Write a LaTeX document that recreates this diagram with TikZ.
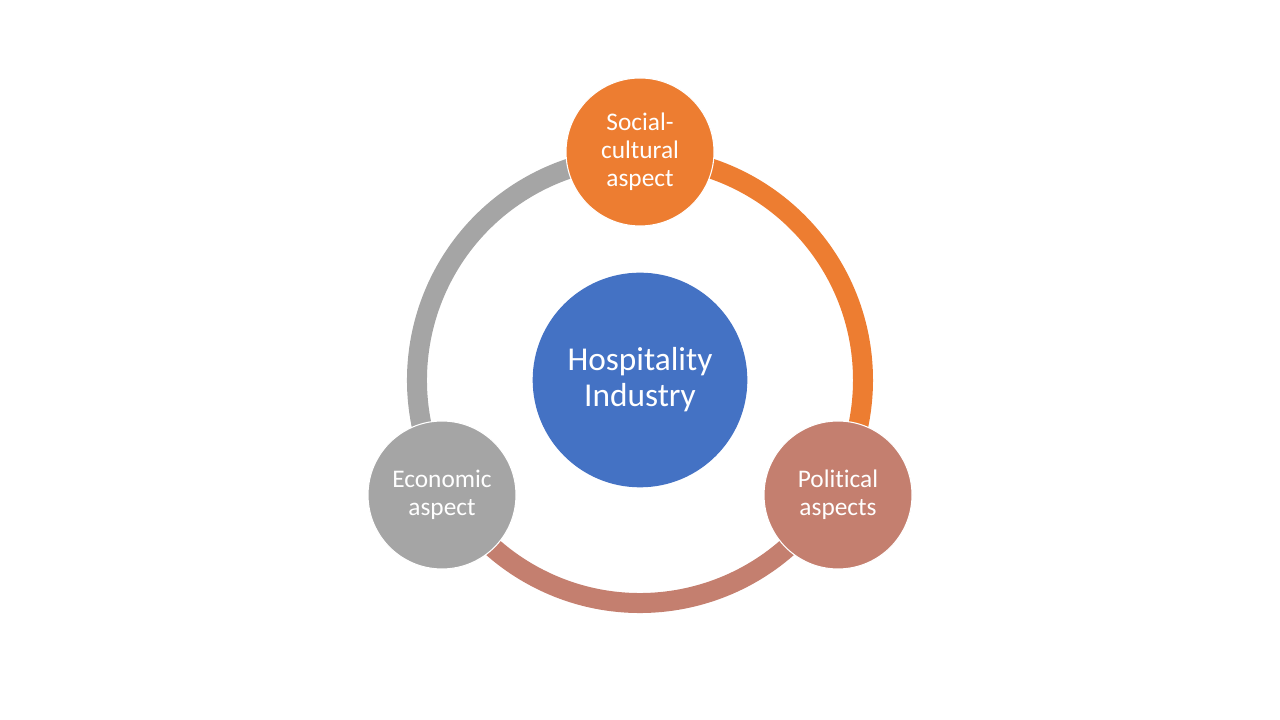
\documentclass[tikz,border=0pt]{standalone}
\usepackage{fontspec}
\setmainfont{Carlito}[Ligatures=NoCommon]
\definecolor{ringorange}{HTML}{ED7D31}
\definecolor{ringgray}{HTML}{A5A5A5}
\definecolor{ringrose}{HTML}{C47F6F}
\definecolor{hubblue}{HTML}{4472C4}
\tikzset{
  aspect/.style={circle,draw=white,line width=0.8pt,minimum size=111pt,inner sep=0pt,
    text=white,align=center,font=\fontsize{19}{21}\selectfont},
  hub/.style={circle,fill=hubblue,minimum size=161pt,inner sep=0pt,
    text=white,align=center,font=\fontsize{25}{27}\selectfont},
  ring/.style={line width=15pt}
}
\begin{document}
\begin{tikzpicture}[x=0.75pt,y=0.75pt]
				\useasboundingbox (0,0) rectangle (1280,720);
				\node[hub] (hosp) at (640,340) {Hospitality\\Industry};
				\draw[ring,ringorange] ([shift={(90:167.25pt)}]hosp.center) arc[start angle=90,end angle=-30,radius=167.25pt];
				\draw[ring,ringrose] ([shift={(-30:167.25pt)}]hosp.center) arc[start angle=-30,end angle=-150,radius=167.25pt];
				\draw[ring,ringgray] ([shift={(210:167.25pt)}]hosp.center) arc[start angle=210,end angle=90,radius=167.25pt];
				\node[aspect,fill=ringorange] (social) at (640,568) {Social-\\cultural\\aspect};
				\node[aspect,fill=ringrose] (political) at (838,225) {Political\\aspects};
				\node[aspect,fill=ringgray] (economic) at (442,225) {Economic\\aspect};
			\end{tikzpicture}
\end{document}
